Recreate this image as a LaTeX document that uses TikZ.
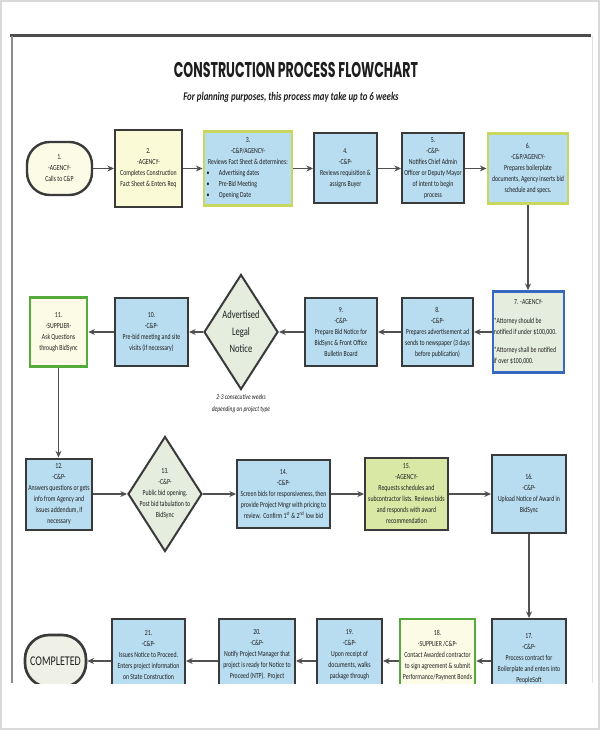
\documentclass[tikz,border=0pt]{standalone}
\usepackage{fontspec}
\setmainfont{Carlito}[FakeStretch=0.75]
\newfontfamily\titlefont{Poppins}[FakeStretch=0.59]
\usetikzlibrary{arrows.meta,shapes.geometric}
\definecolor{lblue}{RGB}{184,221,240}
\definecolor{lyel}{RGB}{250,250,214}
\definecolor{lyelb}{RGB}{252,252,230}
\definecolor{ygb}{RGB}{200,215,95}
\definecolor{gbor}{RGB}{85,170,60}
\definecolor{bbor}{RGB}{55,105,195}
\definecolor{gfill}{RGB}{229,237,223}
\definecolor{ofill}{RGB}{218,232,166}
\definecolor{compfill}{RGB}{240,241,230}
\definecolor{dline}{RGB}{58,58,58}
\definecolor{arrc}{RGB}{80,80,80}
\definecolor{txt}{RGB}{30,30,30}
\newcommand{\nfnt}{\fontsize{5.8}{8.25}\selectfont}
\newcommand{\dfnt}{\fontsize{8.5}{12.75}\selectfont}
\newcommand{\bul}[1]{\makebox[62pt][l]{\textbullet\hspace{7pt}#1}}
\newcommand{\lft}[1]{\makebox[52pt][l]{#1}}
\tikzset{
  sz/.code 2 args={\pgfmathsetlengthmacro\szw{(#1)*0.75pt}\pgfmathsetlengthmacro\szh{(#2)*0.75pt}%
    \edef\szdo{\noexpand\pgfkeysalso{minimum width=\szw,minimum height=\szh}}\szdo},
  nd/.style={rectangle, inner sep=0pt, align=center, font=\nfnt, text=txt, line width=1.5pt, draw=dline},
  bluebox/.style={nd, fill=lblue},
  yelbox/.style={nd, fill=lyel},
  dia/.style={shape=diamond, inner sep=0pt, draw=dline, fill=gfill, line width=1.5pt},
  arr/.style={draw=arrc, line width=1.2pt, -{Stealth[length=5pt,width=4.5pt]}}
}
\begin{document}
\begin{tikzpicture}[x=0.75pt,y=-0.75pt]
\useasboundingbox (0,0) rectangle (600,730);
\fill[white] (0,0) rectangle (600,730);
\draw[black!15, line width=1.5pt] (0.75,0.75) rectangle (599.25,729.25);
\draw[black!70, line width=2pt] (10,35.5) -- (591,35.5);
\draw[black!45, line width=0.8pt] (12,36) -- (12,683);
\draw[black!12, line width=0.6pt] (592,36) -- (592,683);

\node[font={\titlefont\bfseries\fontsize{16}{18}\selectfont}, text=txt] (title) at (296,70) {CONSTRUCTION PROCESS FLOWCHART};
\node[font={\bfseries\itshape\fontsize{8.8}{10}\selectfont}, text=txt] (sub) at (291,97) {For planning purposes, this process may take up to 6 weeks};

\begin{scope}
\clip (0,0) rectangle (600,683);
% row 1
\node[nd, fill=lyelb, sz={65}{53}, rounded corners=17pt, line width=1.8pt] (n1) at (59.5,168.5) {1.\\-AGENCY-\\Calls to C\&P};
\node[yelbox, sz={67}{77}] (n2) at (148.5,168.5) {2.\\-AGENCY-\\Completes Construction\\Fact Sheet \& Enters Req};
\node[bluebox, draw=ygb, line width=2.2pt, sz={88}{74}] (n3) at (248,168.5) {3.\\-C\&P/AGENCY-\\Reviews Fact Sheet \& determines:\\\bul{Advertising dates}\\\bul{Pre-Bid Meeting}\\\bul{Opening Date}};
\node[bluebox, sz={63}{70}] (n4) at (345.5,168.5) {4.\\-C\&P-\\Reviews requisition \&\\assigns Buyer};
\node[bluebox, sz={62}{70}] (n5) at (433,168.5) {5.\\-C\&P-\\Notifies Chief Admin\\Officer or Deputy Mayor\\of intent to begin\\process};
\node[bluebox, draw=ygb, line width=2.2pt, sz={80}{70}] (n6) at (528,168.5) {6.\\-C\&P/AGENCY-\\Prepares boilerplate\\documents, Agency inserts bid\\schedule and specs.};
% row 2
\node[nd, fill=gfill, draw=bbor, line width=2pt, sz={71}{81}] (n7) at (528.5,332) {7. -AGENCY-\\[6pt]\lft{*Attorney should be}\\\lft{notified if under \$100,000.}\\[5pt]\lft{*Attorney shall be notified}\\\lft{if over \$100,000.}};
\node[bluebox, sz={71}{67}] (n8) at (437.5,332) {8.\\-C\&P-\\Prepares advertisement ad\\sends to newspaper (3 days\\before publication)};
\node[bluebox, sz={72}{67}] (n9) at (341,332) {9.\\-C\&P-\\Prepare Bid Notice for\\BidSync \& Front Office\\Bulletin Board};
\node[dia, sz={74}{115}] (dL) at (241,332) {};
\node[font=\dfnt, text=txt, align=center] (dLt) at (dL) {Advertised\\Legal\\Notice};
\node[font={\itshape\fontsize{5.5}{9}\selectfont}, text=txt, align=center] (cap) at (241,404) {2-3 consecutive weeks\\depending on project type};
\node[bluebox, sz={73}{68}] (n10) at (151.5,332) {10.\\-C\&P-\\Pre-bid meeting and site\\visits (if necessary)};
\node[yelbox, fill=lyelb, draw=gbor, line width=2pt, sz={57}{69}] (n11) at (58.5,332) {11.\\-SUPPLIER-\\Ask Questions\\through BidSync};
% row 3
\node[bluebox, sz={66}{71}] (n12) at (59,494) {12.\\-C\&P-\\Answers questions or gets\\info from Agency and\\issues addendum, if\\necessary};
\node[dia, sz={74}{115}] (d13) at (165,494) {};
\node[font=\nfnt, text=txt, align=center] (d13t) at (d13) {13.\\-C\&P-\\Public bid opening.\\Post bid tabulation to\\BidSync};
\node[bluebox, sz={93}{68}] (n14) at (283.5,494) {14.\\-C\&P-\\Screen bids for responsiveness, then\\provide Project Mngr with pricing to\\review.\ \ Confirm 1\textsuperscript{st} \& 2\textsuperscript{nd} low bid};
\node[nd, fill=ofill, sz={83}{72}] (n15) at (406.5,494) {15.\\-AGENCY-\\Requests schedules and\\subcontractor lists. Reviews bids\\and responds with award\\recommendation};
\node[bluebox, sz={74}{78}] (n16) at (529,494) {16.\\-C\&P-\\Upload Notice of Award in\\BidSync};
% row 4
\node[bluebox, sz={74}{79}] (n17) at (529,658.5) {17.\\-C\&P-\\Process contract for\\Boilerplate and enters into\\PeopleSoft};
\node[yelbox, fill=lyelb, draw=gbor, line width=1.8pt, sz={75}{72}] (n18) at (437.5,655) {18.\\-SUPPLIER /C\&P-\\Contact Awarded contractor\\to sign agreement \& submit\\Performance/Payment Bonds};
\node[bluebox, sz={65}{72}] (n19) at (349.5,655) {19.\\-C\&P-\\Upon receipt of\\documents, walks\\package through};
\node[bluebox, sz={76}{72}] (n20) at (257,655) {20.\\-C\&P-\\Notify Project Manager that\\project is ready for Notice to\\Proceed (NTP).\ \ Project};
\node[bluebox, sz={73}{72}] (n21) at (148.5,655) {21.\\-C\&P-\\Issues Notice to Proceed.\\Enters project information\\on State Construction};
\node[nd, fill=compfill, sz={61}{52}, rounded corners=18pt, line width=2pt, font={\fontsize{10}{12}\selectfont}] (comp) at (55.5,661) {COMPLETED};
\coordinate (r4) at (0,661);

% connectors
\draw[arr] (n1) -- (n2);
\draw[arr] (n2) -- (n3);
\draw[arr] (n3) -- (n4);
\draw[arr] (n4) -- (n5);
\draw[arr] (n5) -- (n6);
\draw[arr] (n6.south) -- (n6.south |- n7.north);
\draw[arr] (n7) -- (n8);
\draw[arr] (n8) -- (n9);
\draw[arr] (n9) -- (dL);
\draw[arr] (dL) -- (n10);
\draw[arr] (n10) -- (n11);
\draw[arr] (n11.south) -- (n11.south |- n12.north);
\draw[arr] (n12) -- (d13);
\draw[arr] (d13) -- (n14);
\draw[arr] (n14) -- (n15);
\draw[arr] (n15) -- (n16);
\draw[arr] (n16.south) -- (n16.south |- n17.north);
\draw[arr] (n17.west |- r4) -- (n18.east |- r4);
\draw[arr] (n18.west |- r4) -- (n19.east |- r4);
\draw[arr] (n19.west |- r4) -- (n20.east |- r4);
\draw[arr] (n20.west |- r4) -- (n21.east |- r4);
\draw[arr] (n21.west |- r4) -- (comp);
\end{scope}
\end{tikzpicture}
\end{document}
